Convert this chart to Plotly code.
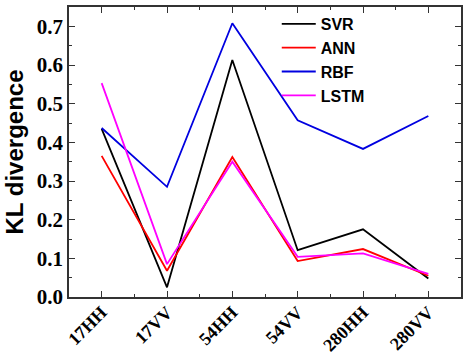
import plotly.graph_objects as go

categories = ["17HH", "17VV", "54HH", "54VV", "280HH", "280VV"]
svr = [0.435, 0.025, 0.613, 0.121, 0.175, 0.048]
ann = [0.365, 0.068, 0.362, 0.093, 0.124, 0.055]
rbf = [0.437, 0.285, 0.708, 0.457, 0.383, 0.468]
lstm = [0.553, 0.085, 0.350, 0.104, 0.113, 0.060]
yticks = [0, 0.1, 0.2, 0.3, 0.4, 0.5, 0.6, 0.7]

series = [("SVR", svr, "black"), ("ANN", ann, "red"), ("RBF", rbf, "#0000e0"), ("LSTM", lstm, "magenta")]

fig = go.Figure()
for name, vals, col in series:
    fig.add_trace(go.Scatter(x=list(range(len(categories))), y=vals, mode="lines", name="<b>%s</b>" % name,
                             legendgroup=name, line=dict(color=col, width=1.8)))

ytickfont = dict(family="Liberation Serif", size=21, color="black")
xtickfont = dict(family="Liberation Serif", size=18, color="black")
fig.update_layout(
    width=474, height=358,
    margin=dict(l=69, r=13, t=7, b=61, autoexpand=False),
    plot_bgcolor="white", paper_bgcolor="white",
    showlegend=True,
    legend=dict(x=0.53, y=1.0, xanchor="left", yanchor="top", bgcolor="rgba(0,0,0,0)",
                font=dict(family="Liberation Sans", size=16, color="black"), tracegroupgap=0,
                itemwidth=34),
    xaxis=dict(range=[-0.5, 5.5], tickmode="array", tickvals=list(range(len(categories))),
               ticktext=["<b>%s</b>" % c for c in categories], tickangle=-45, tickfont=xtickfont,
               showgrid=False, zeroline=False, showline=True, linecolor="#333", linewidth=1.5,
               mirror="ticks", ticks="inside", ticklen=6, tickcolor="#333", automargin=False,
               ticklabelstandoff=-4,
               minor=dict(tickvals=[i + 0.5 for i in range(-1, 6)], ticks="inside", ticklen=3, tickcolor="#333")),
    yaxis=dict(range=[0, 0.75], tickmode="array", tickvals=yticks,
               ticktext=["<b>%.1f</b>" % v for v in yticks],
               tickfont=ytickfont, showgrid=False, zeroline=False, showline=True, linecolor="#333", linewidth=1.5,
               mirror="ticks", ticks="inside", ticklen=6, tickcolor="#333", automargin=False,
               minor=dict(tickvals=[0.05, 0.15, 0.25, 0.35, 0.45, 0.55, 0.65, 0.75], ticks="inside", ticklen=3, tickcolor="#333"),
               title=dict(text="<b>KL divergence</b>", font=dict(family="Liberation Sans", size=24, color="black"), standoff=6)),
)
fig.write_html("out.html", config={"displayModeBar": False},
               post_script="document.body.style.margin='0';document.body.style.overflow='hidden';")
